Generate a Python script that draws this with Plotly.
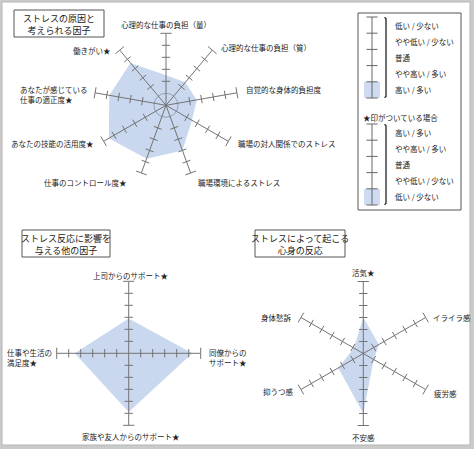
import plotly.graph_objects as go

W, H = 474, 449

# ---------------- data ----------------
cause_labels = ["心理的な仕事の負担（量）", "心理的な仕事の負担（質）", "自覚的な身体的負担度",
                "職場の対人関係でのストレス", "職場環境によるストレス", "仕事のコントロール度★",
                "あなたの技能の活用度★", "あなたが感じている<br>仕事の適正度★", "働きがい★"]
cause_values = [2.5, 2.5, 2.6, 2.5, 4.0, 4.75, 5.5, 4.8, 4.6]

support_labels = ["上司からのサポート★", "同僚からの<br>サポート★", "家族や友人からのサポート★",
                  "仕事や生活の<br>満足度★"]
support_values = [2.9, 5.3, 4.9, 4.5]

reaction_labels = ["活気★", "イライラ感", "疲労感", "不安感", "抑うつ感", "身体愁訴"]
reaction_values = [3.0, 1.5, 1.0, 5.0, 2.4, 0.9]

scale_max = 6
tick_levels = [1, 2, 3, 4, 5]

legend_levels = ["低い / 少ない", "やや低い / 少ない", "普通", "やや高い / 多い", "高い / 多い"]
legend_levels_star = ["高い / 多い", "やや高い / 多い", "普通", "やや低い / 少ない", "低い / 少ない"]

titles = ["ストレスの原因と<br>考えられる因子", "ストレス反応に影響を<br>与える他の因子",
          "ストレスによって起こる<br>心身の反応"]
legend_star_note = "★印がついている場合"

# ---------------- styles ----------------
FONT = "Noto Sans CJK JP"
TXT = "#222222"
AXC = "#737373"
FILL = "rgba(165,190,228,0.6)"
FRAME = "#555555"


def px(x):
    return x / W


def py(y):
    return 1 - y / H


fig = go.Figure()


def add_radar(name, labels, values, center_circle):
    cats = [l.replace("<br>", "") for l in labels]
    n = len(cats)
    angles = [i * 360.0 / n for i in range(n)]
    # filled polygon
    fig.add_trace(go.Scatterpolar(
        r=values + [values[0]], theta=cats + [cats[0]], subplot=name,
        mode="lines", fill="toself", fillcolor=FILL,
        line=dict(width=0, color="rgba(0,0,0,0)"), hoverinfo="skip"))
    # spokes
    sr, st = [], []
    for c in cats:
        sr += [0, scale_max, None]
        st += [c, c, c]
    fig.add_trace(go.Scatterpolar(
        r=sr, theta=st, subplot=name, mode="lines",
        line=dict(width=1, color=AXC), connectgaps=False, hoverinfo="skip", cliponaxis=False))
    # tick marks
    lv = [t for t in tick_levels if not (center_circle and t == 1)]
    tr, tt, ta = [], [], []
    for c, a in zip(cats, angles):
        for t in lv:
            tr.append(t); tt.append(c); ta.append(a)
    fig.add_trace(go.Scatterpolar(
        r=tr, theta=tt, subplot=name, mode="markers", cliponaxis=False,
        marker=dict(symbol="line-ew", size=6, angle=ta, line=dict(width=1, color=AXC)),
        hoverinfo="skip"))
    # end caps
    fig.add_trace(go.Scatterpolar(
        r=[scale_max] * n, theta=cats, subplot=name, mode="markers", cliponaxis=False,
        marker=dict(symbol="line-ew", size=8, angle=angles, line=dict(width=1, color=AXC)),
        hoverinfo="skip"))
    return cats


def polar_layout(cats, cx, cy, rad, center_circle):
    return dict(
        domain=dict(x=[px(cx - rad), px(cx + rad)], y=[py(cy + rad), py(cy - rad)]),
        bgcolor="rgba(0,0,0,0)",
        radialaxis=dict(range=[0, scale_max], showline=False, showticklabels=False, ticks="",
                        tickvals=[1], showgrid=center_circle, gridcolor=AXC, gridwidth=1),
        angularaxis=dict(type="category", categoryarray=cats, direction="clockwise",
                         rotation=90, showline=False, showgrid=False, showticklabels=False,
                         ticks=""),
    )


c1 = add_radar("polar", cause_labels, cause_values, True)
c2 = add_radar("polar2", support_labels, support_values, False)
c3 = add_radar("polar3", reaction_labels, reaction_values, False)

# ---------------- legend scales (cartesian, x in pixels from x=362) ----------------
for xa, ya in [("x", "y"), ("x2", "y2")]:
    nlev = len(legend_levels)
    fig.add_trace(go.Scatter(x=[2, 18, 18, 2, 2], y=[0, 0, 1, 1, 0], xaxis=xa, yaxis=ya,
                             mode="lines", fill="toself", fillcolor="rgba(165,190,228,0.55)",
                             line=dict(width=0), hoverinfo="skip"))
    fig.add_trace(go.Scatter(x=[10, 10], y=[0, nlev], xaxis=xa, yaxis=ya, mode="lines",
                             line=dict(width=1, color="#666666"), hoverinfo="skip"))
    fig.add_trace(go.Scatter(x=[10] * (nlev + 1), y=list(range(nlev + 1)), xaxis=xa, yaxis=ya,
                             mode="markers", cliponaxis=False,
                             marker=dict(symbol="line-ew", size=8, line=dict(width=1, color="#666666")),
                             hoverinfo="skip"))
    fig.add_trace(go.Scatter(x=[22.5, 24, 24, 22.5], y=[nlev - 0.02, nlev - 0.1, 0.1, 0.02],
                             xaxis=xa, yaxis=ya, mode="lines", cliponaxis=False,
                             line=dict(width=1.3, color="#222222"), hoverinfo="skip"))

axis_common = dict(visible=False, fixedrange=True)
layout_axes = dict(
    xaxis=dict(domain=[px(362), px(460)], range=[0, 98], **axis_common),
    yaxis=dict(domain=[py(98), py(17)], range=[0, 5], **axis_common),
    xaxis2=dict(domain=[px(362), px(460)], range=[0, 98], anchor="y2", **axis_common),
    yaxis2=dict(domain=[py(205), py(124)], range=[0, 5], anchor="x2", **axis_common),
)

annotations = []


def ann(text, x, y, xanchor="center", size=7.5, align="left", xref="paper", yref="paper"):
    if xref == "paper":
        x, y = px(x), py(y)
    annotations.append(dict(text=text, x=x, y=y, xref=xref, yref=yref, xanchor=xanchor,
                            yanchor="middle", showarrow=False, align=align,
                            font=dict(family=FONT, size=size, color=TXT)))


# legend labels
for i, t in enumerate(legend_levels):
    ann(t, 31, len(legend_levels) - 0.5 - i, "left", xref="x", yref="y")
for i, t in enumerate(legend_levels_star):
    ann(t, 31, len(legend_levels_star) - 0.5 - i, "left", xref="x2", yref="y2")
ann(legend_star_note, 361, 117, "left")

# radar axis labels (positions in pixels)
cause_pos = [(166, 24, "center"), (219, 47, "left"), (244, 89.5, "left"), (236, 143, "left"),
             (196, 182, "left"), (129, 182, "right"), (96, 143, "right"), (90, 94, "right"),
             (113, 51, "right")]
support_pos = [(130, 275, "center"), (207, 357, "left"), (131, 436, "center"), (5, 357, "left")]
reaction_pos = [(363.5, 272.5, "center"), (431, 317, "left"), (432, 393.5, "left"),
                (363.5, 437, "center"), (296, 391, "right"), (294, 317, "right")]
for labs, poss in [(cause_labels, cause_pos), (support_labels, support_pos),
                   (reaction_labels, reaction_pos)]:
    for t, (x, y, a) in zip(labs, poss):
        ann(t, x, y, a)

# titles
title_boxes = [(14, 10, 104, 37), (22, 230, 110, 257), (255, 230, 345, 257)]
shapes = [dict(type="rect", xref="paper", yref="paper", x0=px(2), x1=px(470), y0=py(445), y1=py(2),
               fillcolor="white", line=dict(color="#b5b5b5", width=1), layer="below"),
          dict(type="rect", xref="paper", yref="paper", x0=px(358), x1=px(461), y0=py(210),
               y1=py(13), line=dict(color=FRAME, width=1), fillcolor="rgba(0,0,0,0)")]
for t, (x0, y0, x1, y1) in zip(titles, title_boxes):
    shapes.append(dict(type="rect", xref="paper", yref="paper", x0=px(x0), x1=px(x1),
                       y0=py(y1), y1=py(y0), line=dict(color=FRAME, width=1),
                       fillcolor="rgba(0,0,0,0)"))
    ann(t, (x0 + x1) / 2, (y0 + y1) / 2 + 0.5, "center", size=9, align="center")

fig.update_layout(
    width=W, height=H, margin=dict(l=0, r=0, t=0, b=0),
    paper_bgcolor="#cbcbcb", plot_bgcolor="rgba(0,0,0,0)", showlegend=False,
    font=dict(family=FONT, color=TXT),
    polar=polar_layout(c1, 166, 105.3, 72, True),
    polar2=polar_layout(c2, 128.7, 353.3, 72, False),
    polar3=polar_layout(c3, 363.3, 353.5, 72, False),
    annotations=annotations, shapes=shapes, **layout_axes,
)

fig.write_html("out.html", config={"displayModeBar": False},
               post_script="document.body.style.margin='0';document.body.style.overflow='hidden';")
